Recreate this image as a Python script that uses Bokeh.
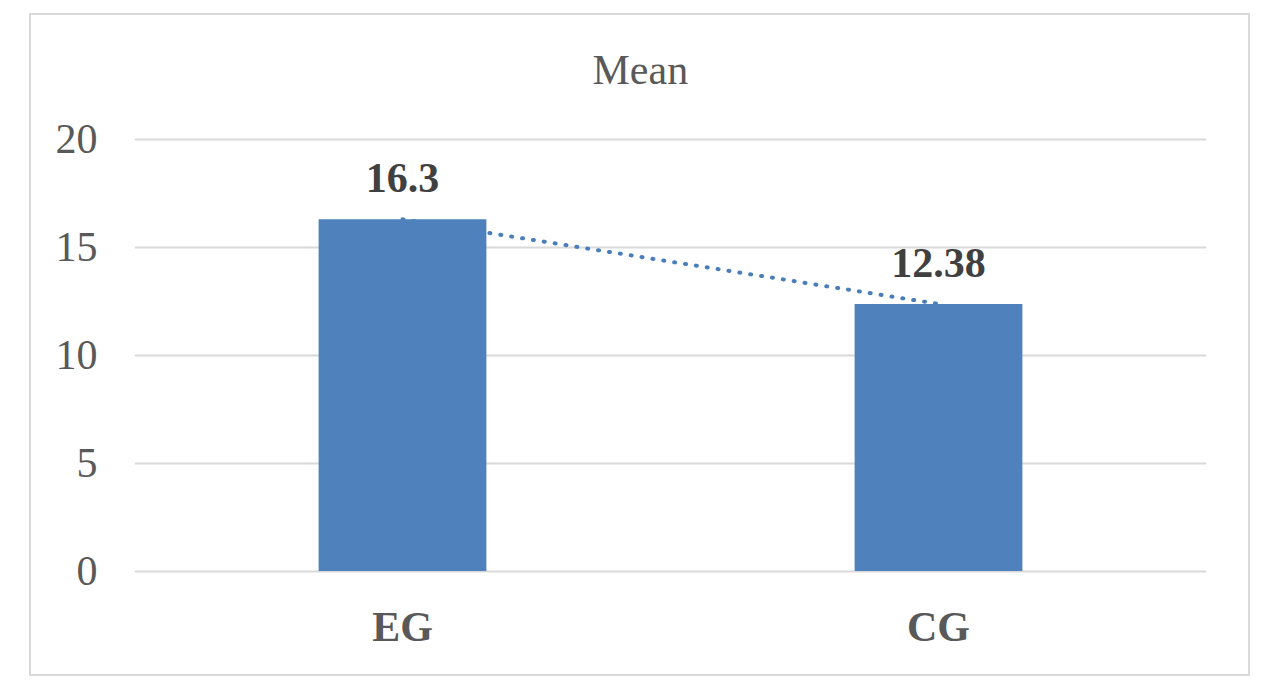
from bokeh.core.properties import value
from bokeh.embed import file_html
from bokeh.models import ColumnDataSource, FactorRange, FixedTicker, Range1d
from bokeh.plotting import figure
from bokeh.resources import INLINE

# values
groups = ["EG", "CG"]
means = [16.3, 12.38]
mean_labels = ["16.3", "12.38"]
y_ticks = [0, 5, 10, 15, 20]

SERIF = "Liberation Serif"
BLUE = "#4f81bd"
GRID = "#d9d9d9"

source = ColumnDataSource(data=dict(group=groups, mean=means, label=mean_labels))

p = figure(
    x_range=FactorRange(*groups),
    y_range=Range1d(-0.25, 21.25),
    width=1221,
    height=663,
    margin=(13, 0, 0, 29),
    output_backend="svg",
    toolbar_location=None,
    min_border_left=105,
    min_border_right=44,
    min_border_top=99,
    min_border_bottom=100,
    border_fill_color=None,
    # grey frame round the whole chart
    styles={"box-shadow": "inset 0 0 0 2px #d9d9d9"},
)

# title is centred on the whole chart, not on the plot area
p.title.text = "Mean"
p.title.align = "left"
p.title.offset = 458
p.title.text_font = SERIF
p.title.text_font_size = "42px"
p.title.text_font_style = "normal"
p.title.text_color = "#595959"
p.title.standoff = 40

# trend line sits behind the bars
p.line(
    x="group", y="mean", source=source,
    line_color="#4a7ebb", line_width=4, line_dash="1 10", line_cap="round",
)
p.vbar(x="group", top="mean", width=0.313, source=source,
       fill_color=BLUE, line_color=None)

p.text(
    x="group", y="mean", text="label", source=source,
    text_font=value(SERIF), text_font_size="42px", text_font_style="bold",
    text_color="#404040", text_align="center", text_baseline="alphabetic",
    y_offset=-41,
)

p.outline_line_color = None
p.xgrid.grid_line_color = None
p.ygrid.grid_line_color = GRID
p.ygrid.grid_line_width = 2
p.yaxis.ticker = FixedTicker(ticks=y_ticks)

for ax in (p.xaxis, p.yaxis):
    ax.axis_line_color = None
    ax.major_tick_line_color = None
    ax.minor_tick_line_color = None
    ax.major_label_text_font = SERIF
    ax.major_label_text_color = "#595959"

p.yaxis.major_label_standoff = 31
p.yaxis.major_label_text_font_size = "42px"
p.xaxis.major_label_text_font_size = "42px"
p.xaxis.major_label_text_font_style = "bold"
p.xaxis.major_label_standoff = 21

open("out.html", "w").write(file_html(p, INLINE))
